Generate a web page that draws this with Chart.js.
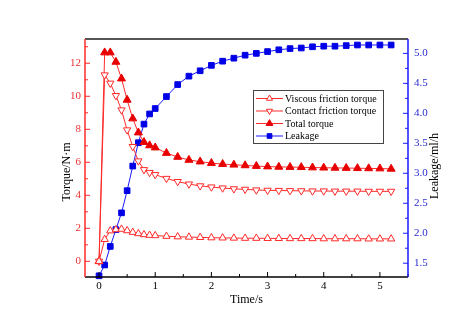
<!DOCTYPE html>
<html>
<head>
<meta charset="utf-8">
<script src="https://cdn.jsdelivr.net/npm/chart.js@4/dist/chart.umd.min.js"></script>
<style>
  html, body { margin: 0; padding: 0; background: #fff; }
  #wrap { width: 474px; height: 333px; }
</style>
</head>
<body>
<div id="wrap"><canvas id="grafica" width="474" height="333"></canvas></div>
<script>
// Datos
const tiempo = [0, 0.1, 0.2, 0.3, 0.4, 0.5, 0.6, 0.7, 0.8, 0.9, 1.0,
  1.2, 1.4, 1.6, 1.8, 2.0, 2.2, 2.4, 2.6, 2.8, 3.0, 3.2, 3.4, 3.6, 3.8, 4.0, 4.2, 4.4, 4.6, 4.8, 5.0, 5.2];
const parViscoso = [0, 1.33, 1.85, 1.92, 1.95, 1.86, 1.76, 1.68, 1.62, 1.58, 1.56,
  1.52, 1.49, 1.47, 1.45, 1.43, 1.42, 1.41, 1.40, 1.40, 1.39, 1.39, 1.38, 1.38, 1.38, 1.37, 1.37, 1.37, 1.37, 1.36, 1.36, 1.36];
const parContacto = [0, 11.29, 10.79, 10.04, 9.17, 7.96, 6.95, 6.08, 5.55, 5.38, 5.25,
  5.02, 4.83, 4.68, 4.57, 4.50, 4.44, 4.39, 4.36, 4.32, 4.30, 4.29, 4.28, 4.27, 4.26, 4.26, 4.25, 4.25, 4.25, 4.24, 4.24, 4.24];
const parTotal = [0, 12.65, 12.65, 12.08, 11.07, 9.78, 8.65, 7.80, 7.22, 7.02, 6.89,
  6.56, 6.32, 6.14, 6.04, 5.95, 5.89, 5.85, 5.81, 5.77, 5.74, 5.72, 5.71, 5.70, 5.68, 5.67, 5.66, 5.65, 5.64, 5.63, 5.62, 5.60];
const fuga = [1.29, 1.47, 1.78, 2.06, 2.34, 2.71, 3.12, 3.51, 3.82, 3.99, 4.08,
  4.28, 4.48, 4.62, 4.71, 4.80, 4.87, 4.92, 4.97, 5.00, 5.03, 5.06, 5.08, 5.09, 5.11, 5.12, 5.12, 5.13, 5.14, 5.14, 5.14, 5.14];

const nombres = ['Viscous friction torque', 'Contact friction torque', 'Total torque', 'Leakage'];
const ticksTiempo = [0, 1, 2, 3, 4, 5];
const ticksPar = [0, 2, 4, 6, 8, 10, 12];
const ticksFuga = [1.5, 2.0, 2.5, 3.0, 3.5, 4.0, 4.5, 5.0];

const serif = '"Liberation Serif", "DejaVu Serif", serif';
const rojo = '#ff2a2a';
const rojoFuerte = '#e80000';
const azul = '#1a1aff';

const puntos = (ys) => tiempo.map((t, i) => ({ x: t, y: ys[i] }));

// Ticks hacia dentro (estilo Origin), con menores a mitad de camino
const ticksDentro = {
  id: 'ticksDentro',
  afterDraw(chart) {
    const { ctx, chartArea: a, scales } = chart;
    ctx.save();
    const marcar = (scale, valores, lado, color) => {
      ctx.strokeStyle = color;
      ctx.lineWidth = 1;
      const paso = valores[1] - valores[0];
      const todos = [];
      for (let v = valores[0] - paso; v <= valores[valores.length - 1] + paso; v += paso / 2) todos.push(v);
      todos.forEach(v => {
        const mayor = valores.some(m => Math.abs(m - v) < 1e-6);
        const largo = mayor ? 5 : 3;
        const p = scale.getPixelForValue(v);
        ctx.beginPath();
        if (lado === 'left') {
          if (p < a.top || p > a.bottom) return;
          ctx.moveTo(a.left, p); ctx.lineTo(a.left + largo, p);
        } else if (lado === 'right') {
          if (p < a.top || p > a.bottom) return;
          ctx.moveTo(a.right, p); ctx.lineTo(a.right - largo, p);
        } else {
          if (p < a.left || p > a.right) return;
          ctx.moveTo(p, a.bottom); ctx.lineTo(p, a.bottom - largo);
        }
        ctx.stroke();
      });
    };
    marcar(scales.y, ticksPar, 'left', rojo);
    marcar(scales.y2, ticksFuga, 'right', azul);
    marcar(scales.x, ticksTiempo, 'bottom', '#000');

    // Marco
    ctx.lineWidth = 2;
    ctx.strokeStyle = '#555';
    ctx.beginPath(); ctx.moveTo(a.left, a.top); ctx.lineTo(a.right, a.top); ctx.stroke();
    ctx.strokeStyle = '#000';
    ctx.lineWidth = 1.5;
    ctx.beginPath(); ctx.moveTo(a.left, a.bottom); ctx.lineTo(a.right, a.bottom); ctx.stroke();
    ctx.strokeStyle = rojo;
    ctx.beginPath(); ctx.moveTo(a.left, a.top); ctx.lineTo(a.left, a.bottom); ctx.stroke();
    ctx.strokeStyle = azul;
    ctx.beginPath(); ctx.moveTo(a.right, a.top); ctx.lineTo(a.right, a.bottom); ctx.stroke();

    // Títulos de ejes
    ctx.fillStyle = '#000';
    ctx.font = '12px ' + serif;
    ctx.textAlign = 'center';
    ctx.textBaseline = 'middle';
    ctx.fillText('Time/s', (a.left + a.right) / 2, a.bottom + 23);
    ctx.save();
    ctx.translate(a.left - 18, 172);
    ctx.rotate(-Math.PI / 2);
    ctx.fillText('Torque/N\u00b7m', 0, 0);
    ctx.restore();
    ctx.save();
    ctx.translate(a.right + 27, 166);
    ctx.rotate(-Math.PI / 2);
    ctx.fillText('Leakage/ml/h', 0, 0);
    ctx.restore();

    // Leyenda con recuadro
    const lx = a.left + 168, ly = a.top + 51, lw = 130, lh = 53;
    ctx.fillStyle = '#fff';
    ctx.fillRect(lx, ly, lw, lh);
    ctx.strokeStyle = '#444';
    ctx.lineWidth = 1;
    ctx.strokeRect(lx + 0.5, ly + 0.5, lw, lh);
    ctx.font = '10px ' + serif;
    ctx.textAlign = 'left';
    chart.data.datasets.forEach((ds, i) => {
      const y = ly + 8.5 + i * 12.5;
      ctx.strokeStyle = ds.borderColor;
      ctx.lineWidth = 1;
      ctx.beginPath(); ctx.moveTo(lx + 3, y); ctx.lineTo(lx + 30, y); ctx.stroke();
      ctx.fillStyle = ds.pointBackgroundColor;
      ctx.strokeStyle = ds.pointBorderColor;
      Chart.helpers.drawPoint(ctx, {
        pointStyle: ds.pointStyle, rotation: ds.pointRotation || 0,
        radius: ds.pointRadius - 0.7, borderWidth: 1
      }, lx + 16.5, y);
      ctx.fillStyle = '#000';
      ctx.fillText(ds.label, lx + 32, y + 0.5);
    });
    ctx.restore();
  }
};

new Chart(document.getElementById('grafica'), {
  type: 'line',
  data: {
    datasets: [
      {
        label: nombres[0], data: puntos(parViscoso), yAxisID: 'y',
        borderColor: rojo, borderWidth: 1, pointStyle: 'triangle',
        pointRadius: 4.2, pointBackgroundColor: '#fff', pointBorderColor: rojo, pointBorderWidth: 1
      },
      {
        label: nombres[1], data: puntos(parContacto), yAxisID: 'y',
        borderColor: rojo, borderWidth: 1, pointStyle: 'triangle', pointRotation: 180,
        pointRadius: 4.2, pointBackgroundColor: '#fff', pointBorderColor: rojo, pointBorderWidth: 1
      },
      {
        label: nombres[2], data: puntos(parTotal), yAxisID: 'y',
        borderColor: rojo, borderWidth: 1, pointStyle: 'triangle',
        pointRadius: 4.6, pointBackgroundColor: rojoFuerte, pointBorderColor: rojoFuerte, pointBorderWidth: 1
      },
      {
        label: nombres[3], data: puntos(fuga), yAxisID: 'y2',
        borderColor: azul, borderWidth: 1, pointStyle: 'rect',
        pointRadius: 4, pointBackgroundColor: '#0000e6', pointBorderColor: '#0000e6', pointBorderWidth: 1
      }
    ]
  },
  options: {
    responsive: false,
    animation: false,
    clip: false,
    layout: { padding: { top: 39, left: 0, right: 0, bottom: 0 } },
    plugins: { legend: { display: false }, tooltip: { enabled: false } },
    elements: { line: { tension: 0 } },
    scales: {
      x: {
        type: 'linear', min: -0.25, max: 5.5,
        afterBuildTicks: s => { s.ticks = ticksTiempo.map(v => ({ value: v })); },
        afterFit: s => { s.height = 56; },
        grid: { display: false, drawTicks: false }, border: { display: false },
        ticks: { color: '#000', font: { family: serif, size: 11 }, padding: 3, maxRotation: 0, autoSkip: false }
      },
      y: {
        type: 'linear', position: 'left', min: -0.95, max: 13.47,
        afterBuildTicks: s => { s.ticks = ticksPar.map(v => ({ value: v })); },
        afterFit: s => { s.width = 85; },
        grid: { display: false, drawTicks: false }, border: { display: false },
        ticks: { color: '#e83030', font: { family: serif, size: 11 }, padding: 4, autoSkip: false }
      },
      y2: {
        type: 'linear', position: 'right', min: 1.27, max: 5.24,
        afterBuildTicks: s => { s.ticks = ticksFuga.map(v => ({ value: v })); },
        afterFit: s => { s.width = 66; },
        grid: { display: false, drawTicks: false }, border: { display: false },
        ticks: {
          color: '#2a2ad0', font: { family: serif, size: 11 }, padding: 6, autoSkip: false,
          callback: v => v.toFixed(1)
        }
      }
    }
  },
  plugins: [ticksDentro]
});
</script>
</body>
</html>
